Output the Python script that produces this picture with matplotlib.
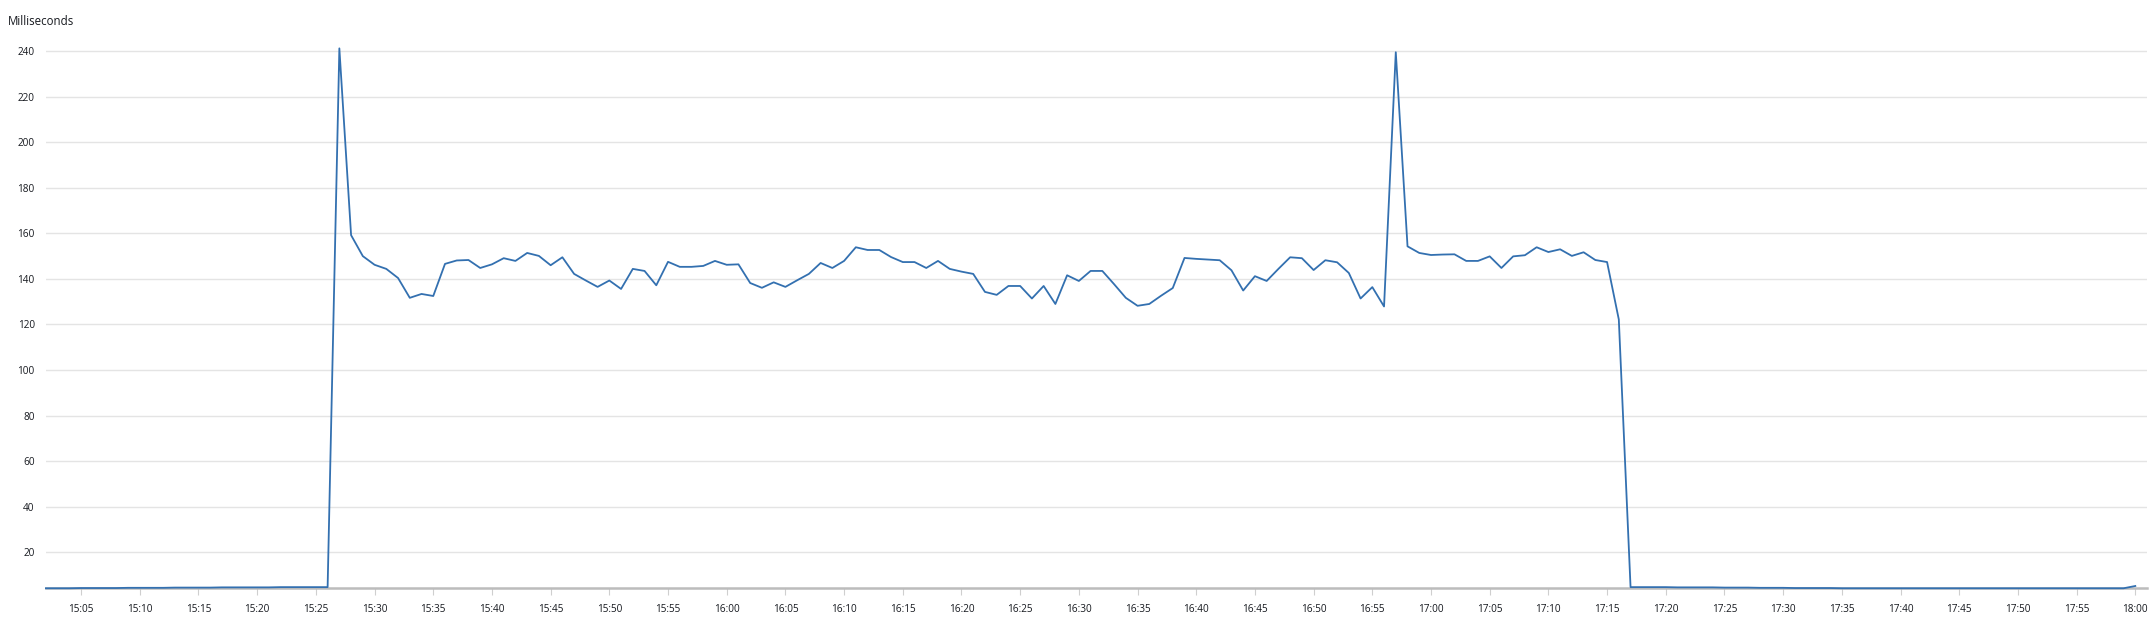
import pandas as pd
import matplotlib
matplotlib.use("Agg")
import matplotlib.pyplot as plt
import matplotlib.dates as mdates

# one point per minute, starting at 15:02
start_time = "2024-01-01 15:02"

idle_before = [4.2, 4.2, 4.2, 4.3, 4.3, 4.3, 4.3, 4.4, 4.4, 4.4, 4.4, 4.5, 4.5,
               4.5, 4.5, 4.6, 4.6, 4.6, 4.6, 4.6, 4.7, 4.7, 4.7, 4.7, 4.7]
spike_1 = [241.2]
run_a = [159.2, 150.0, 146.2, 144.4, 140.4, 131.7, 133.4, 132.5, 146.6, 148.1,
         148.3, 144.8, 146.4, 149.1, 147.9, 151.4, 150.1, 146.0, 149.5, 142.2,
         139.3, 136.5, 139.3, 135.6, 144.4, 143.5, 137.2, 147.5, 145.3, 145.3,
         145.7, 147.9, 146.2]
run_b = [146.4, 138.2, 136.1, 138.5, 136.5, 139.4, 142.2, 147.0, 144.8, 147.9,
         153.9, 152.7, 152.7, 149.6, 147.4, 147.4, 144.8, 147.9, 144.4, 143.2,
         142.2, 134.3, 133.0, 136.9, 136.9, 131.4, 136.9, 129.0, 141.6, 139.1,
         143.5, 143.5, 137.7, 131.7, 128.2, 129.0, 132.6, 136.0]
run_c = [149.2, 148.8, 148.5, 148.2, 143.8, 134.9, 141.2, 139.1, 144.4, 149.5,
         149.1, 143.9, 148.2, 147.3, 142.6, 131.4, 136.4, 127.9]
spike_2 = [239.5]
run_d = [154.3, 151.4, 150.5, 150.7, 150.8, 147.9, 147.9, 149.9, 144.8, 149.9,
         150.4, 153.9, 151.8, 153.0, 150.1, 151.7, 148.3, 147.4, 122.2]
idle_after = [4.7, 4.7, 4.7, 4.7, 4.6, 4.6, 4.6, 4.6, 4.5, 4.5, 4.5, 4.4, 4.4,
              4.4, 4.3, 4.3, 4.3, 4.3, 4.2, 4.2, 4.2, 4.2, 4.2, 4.2, 4.2, 4.2,
              4.2, 4.2, 4.2, 4.2, 4.2, 4.2, 4.2, 4.2, 4.2, 4.2, 4.2, 4.2, 4.2,
              4.2, 4.2, 4.2, 4.2, 5.2]

values = idle_before + spike_1 + run_a + run_b + run_c + spike_2 + run_d + idle_after
times = pd.date_range(start_time, periods=len(values), freq="min")

y_ticks = [20, 40, 60, 80, 100, 120, 140, 160, 180, 200, 220, 240]

plt.rcParams['font.family'] = ['Open Sans', 'DejaVu Sans']

fig = plt.figure(figsize=(21.55, 6.21), dpi=100)
ax = fig.add_axes([0.0213, 0.0527, 0.975, 0.876])

ax.plot(times, values, color='#3370b0', lw=1.3, zorder=3, clip_on=False)

ax.set_xlim(pd.Timestamp("2024-01-01 15:02"), pd.Timestamp("2024-01-01 18:01"))
ax.set_ylim(4.2, 243)
ax.set_yticks(y_ticks)
ax.xaxis.set_major_locator(mdates.MinuteLocator(byminute=range(0, 60, 5)))
ax.xaxis.set_major_formatter(mdates.DateFormatter('%H:%M'))

ax.grid(axis='y', color='#e4e4e4', lw=1.0)
ax.set_axisbelow(True)
for side in ['top', 'right', 'left']:
    ax.spines[side].set_visible(False)
ax.spines['bottom'].set_color('#bcbcbc')
ax.spines['bottom'].set_linewidth(1.8)

ax.tick_params(axis='y', length=0, pad=8, labelsize=7.2, labelcolor='#16191f')
ax.tick_params(axis='x', length=5, width=0.8, color='#cfcfcf', pad=6,
               labelsize=7.2, labelcolor='#16191f')

fig.text(0.0037, 0.965, 'Milliseconds', fontsize=8.3, color='#16191f',
         ha='left', va='center')

fig.savefig('out.png', dpi=100)
